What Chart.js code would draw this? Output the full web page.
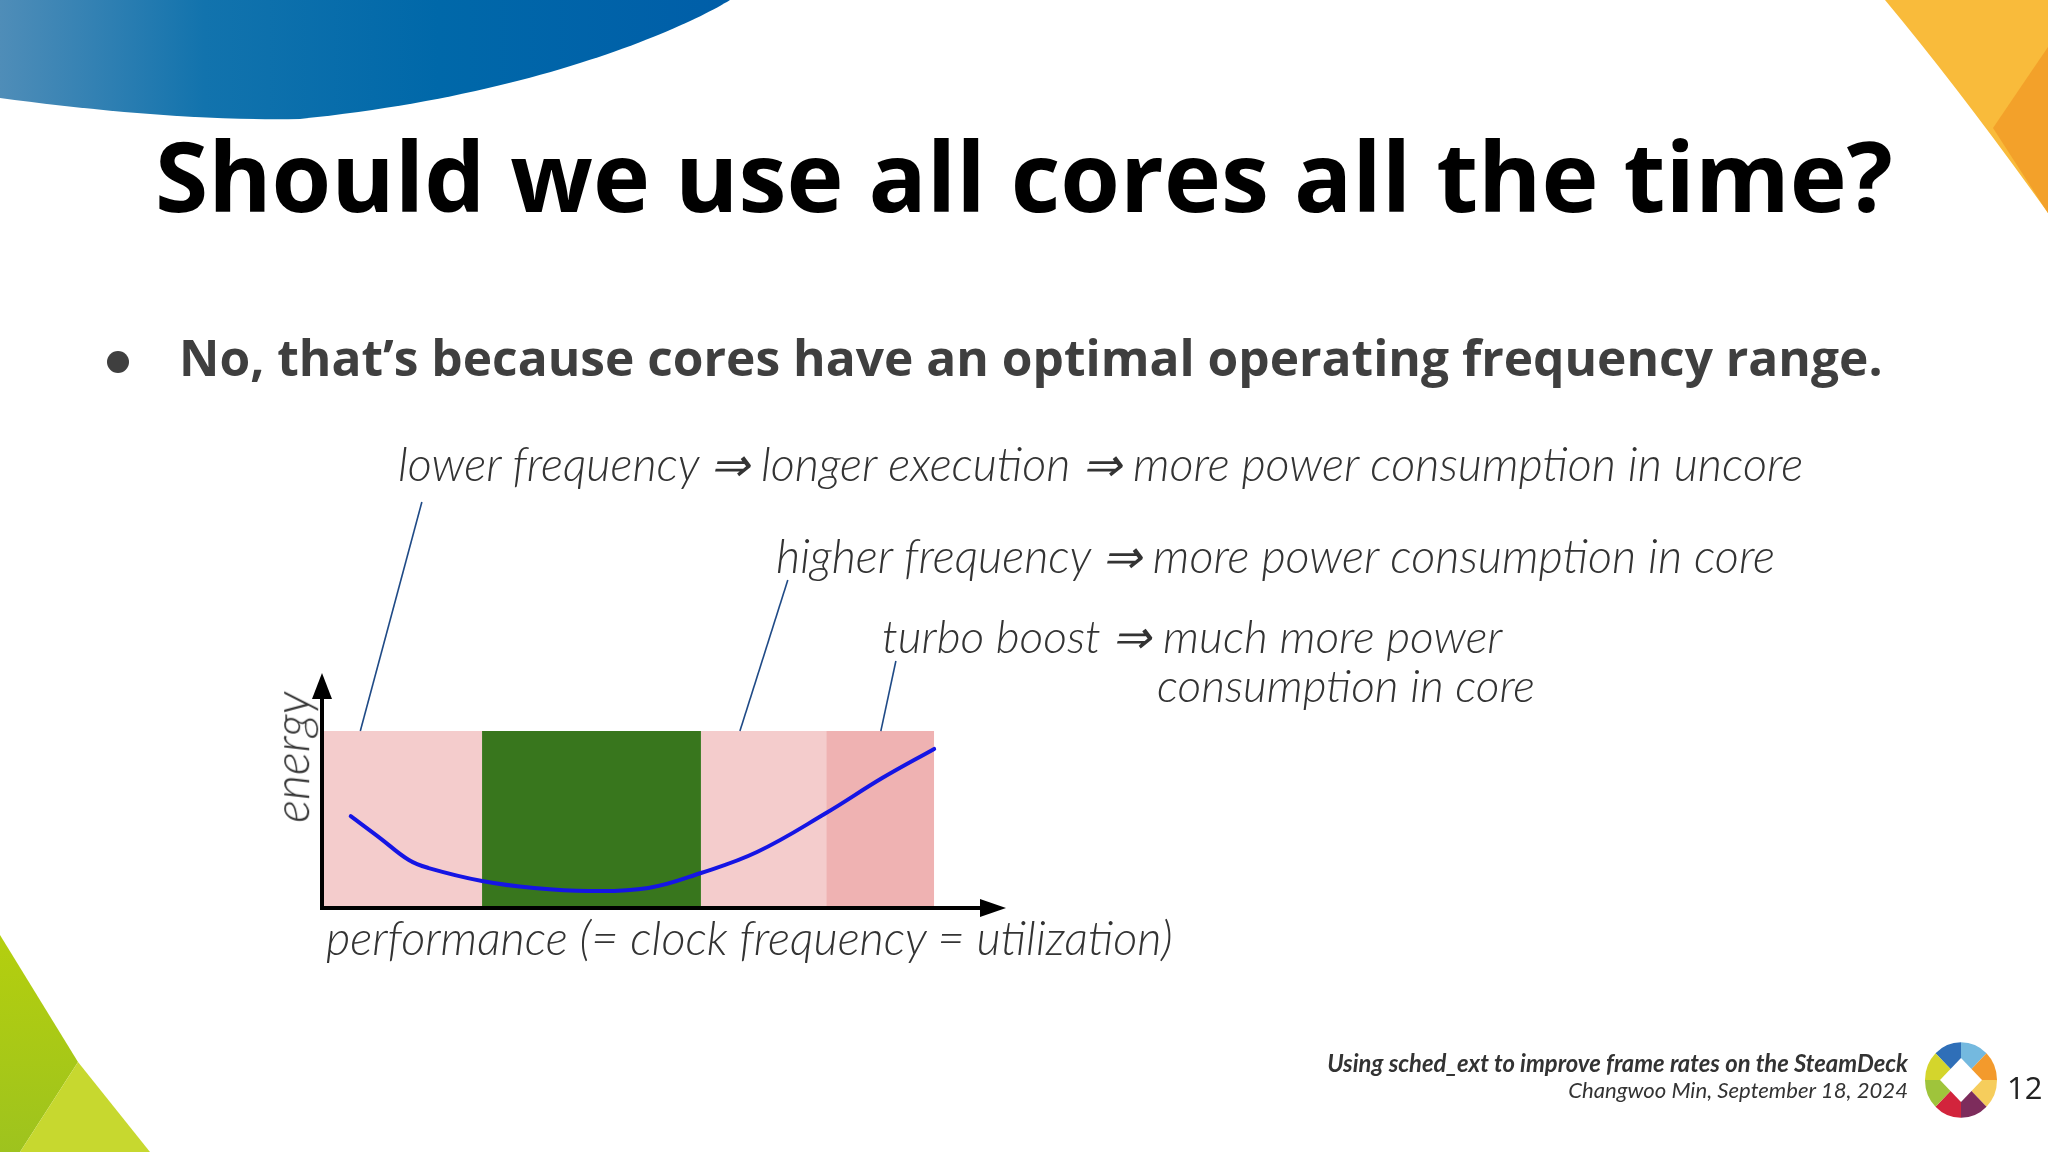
<!DOCTYPE html>
<html>
<head>
<meta charset="utf-8">
<script src="https://cdn.jsdelivr.net/npm/chart.js@4.4.1/dist/chart.umd.min.js"></script>
<style>
  html, body { margin: 0; padding: 0; background: #fff; }
  #slide { position: relative; width: 2048px; height: 1152px; overflow: hidden; background: #fff; }
  #deco, #chart { position: absolute; left: 0; top: 0; }
  .t { position: absolute; white-space: nowrap; line-height: 1; }
  .title { font-family: "Open Sans", sans-serif; font-weight: 700; color: #000; }
  .bullet { font-family: "Open Sans", sans-serif; font-weight: 700; color: #3f3f3f; }
  .note { font-family: Lato, "Open Sans", sans-serif; font-weight: 300; font-style: italic; color: #333; }
  .foot1 { font-family: Lato, sans-serif; font-weight: 700; font-style: italic; color: #333; }
  .foot2 { font-family: Lato, sans-serif; font-weight: 400; font-style: italic; color: #333; }
  .num { font-family: "Open Sans", sans-serif; font-weight: 400; color: #222; }
  #dot { position: absolute; left: 107px; top: 351px; width: 22px; height: 22px; border-radius: 50%; background: #3f3f3f; }
</style>
</head>
<body>
<div id="slide">
  <svg id="deco" width="2048" height="1152">
    <defs>
      <linearGradient id="blue" x1="0" y1="0" x2="1" y2="0">
        <stop offset="0" stop-color="#4f8db8"/>
        <stop offset="0.28" stop-color="#1273ad"/>
        <stop offset="0.6" stop-color="#0068a9"/>
        <stop offset="1" stop-color="#005ea8"/>
      </linearGradient>
      <linearGradient id="lime" x1="0" y1="0" x2="0" y2="1">
        <stop offset="0" stop-color="#b4cf0e"/>
        <stop offset="1" stop-color="#9ec31e"/>
      </linearGradient>
    </defs>
    <path d="M0 0 H730 C690 25 540 95 300 119 C200 121 90 110 0 98 Z" fill="url(#blue)"/>
    <path d="M1885 0 Q1960 90 2048 213 V0 Z" fill="#f9bb3b"/>
    <path d="M2048 47 L1993 128 Q2020 170 2048 213 Z" fill="#f3a12a"/>
    <path d="M0 935 L78 1062 L20 1152 L0 1152 Z" fill="url(#lime)"/>
    <path d="M78 1062 L150 1152 L20 1152 Z" fill="#c7d82f"/>
    <g transform="translate(1961,1080) scale(1,1.05)">
      <path d="M0 0 L0 -36 A36 36 0 0 0 -25.5 -25.5 Z" fill="#2f6fb8"/>
      <path d="M0 0 L25.5 -25.5 A36 36 0 0 0 0 -36 Z" fill="#74b9df"/>
      <path d="M0 0 L36 0 A36 36 0 0 0 25.5 -25.5 Z" fill="#f39a2c"/>
      <path d="M0 0 L25.5 25.5 A36 36 0 0 0 36 0 Z" fill="#f6cd5c"/>
      <path d="M0 0 L0 36 A36 36 0 0 0 25.5 25.5 Z" fill="#7d2c5c"/>
      <path d="M0 0 L-25.5 25.5 A36 36 0 0 0 0 36 Z" fill="#d2243c"/>
      <path d="M0 0 L-36 0 A36 36 0 0 0 -25.5 25.5 Z" fill="#9fc43b"/>
      <path d="M0 0 L-25.5 -25.5 A36 36 0 0 0 -36 0 Z" fill="#d4d52c"/>
      <path d="M0 -21 L21 0 L0 21 L-21 0 Z" fill="#fff"/>
    </g>
  </svg>
  <canvas id="chart" width="2048" height="1152"></canvas>

  <div class="t title" data-x="155" data-b="213" data-w="1738" data-fs="104">Should we use all cores all the time?</div>
  <div id="dot"></div>
  <div class="t bullet" data-x="179" data-b="377" data-w="1704" data-fs="52">No, that’s because cores have an optimal operating frequency range.</div>

  <div class="t note" data-x="398" data-b="482" data-w="1407" data-fs="40">lower frequency ⇒ longer execution ⇒ more power consumption in uncore</div>
  <div class="t note" data-x="776" data-b="574" data-w="1000" data-fs="40">higher frequency ⇒ more power consumption in core</div>
  <div class="t note" data-x="882" data-b="653" data-w="621" data-fs="40">turbo boost ⇒ much more power</div>
  <div class="t note" data-x="1157" data-b="703" data-w="378" data-fs="40">consumption in core</div>
  <div class="t note" data-x="326" data-b="956" data-w="847" data-fs="40">performance (= clock frequency = utilization)</div>
  <div class="t note" id="ylabel" data-w="131" data-fs="42">energy</div>

  <div class="t foot1" data-r="1908" data-b="1073" data-w="581" data-fs="20">Using sched_ext to improve frame rates on the SteamDeck</div>
  <div class="t foot2" data-r="1908" data-b="1099" data-w="340" data-fs="20">Changwoo Min, September 18, 2024</div>
  <div class="t num" data-x="2007" data-b="1099" data-fs="31">12</div>
</div>

<script>
// Bandes de fréquence (axe x : performance, 0..100)
const bandStart = [0, 23.4, 55.4, 73.7];
const bandEnd = [23.4, 55.4, 73.7, 89.5];
const bandTop = 75.3;
const bandColors = ['#f4cccc', '#38761d', '#f4cccc', '#efb2b2'];

// Courbe énergie / performance
const curveX = [4.2, 8.3, 12.7, 15.6, 23.4, 31.0, 38.9, 47.7, 55.4, 63.6, 73.7, 81.9, 89.5];
const curveY = [39.1, 30.2, 20.4, 17.0, 11.5, 8.5, 7.2, 8.5, 14.9, 23.8, 40.4, 55.3, 67.7];

// Traits de renvoi vers les annotations (unités des axes)
const leaderFromX = [14.6, 68.1, 83.9];
const leaderFromY = [172.8, 139.6, 105.1];
const leaderToX = [5.6, 61.1, 81.7];

// Ajuste la taille des textes pour tenir dans la largeur voulue
document.querySelectorAll('.t').forEach(function(el) {
    let fs = parseFloat(el.dataset.fs);
    el.style.fontSize = fs + 'px';
    if (el.dataset.w) {
        const w = el.getBoundingClientRect().width;
        fs = fs * parseFloat(el.dataset.w) / w;
        el.style.fontSize = fs + 'px';
    }
    if (el.id === 'ylabel') {
        const w = el.getBoundingClientRect().width;
        el.style.left = (290 - w / 2) + 'px';
        el.style.top = (757 - fs / 2) + 'px';
        el.style.transform = 'rotate(-90deg)';
        return;
    }
    el.style.top = (parseFloat(el.dataset.b) - 0.887 * fs) + 'px';
    if (el.dataset.r) {
        el.style.left = (parseFloat(el.dataset.r) - el.getBoundingClientRect().width) + 'px';
    } else {
        el.style.left = el.dataset.x + 'px';
    }
});

const datasets = [];

datasets.push({
    label: 'energy',
    data: curveX.map((x, i) => ({ x: x, y: curveY[i] })),
    borderColor: '#1515e4',
    borderWidth: 4,
    pointRadius: 0,
    tension: 0.4,
    borderCapStyle: 'round',
    fill: false
});

bandStart.forEach(function(start, i) {
    datasets.push({
        label: 'band' + i,
        data: [{ x: start, y: bandTop }, { x: bandEnd[i], y: bandTop }],
        backgroundColor: bandColors[i],
        borderWidth: 0,
        pointRadius: 0,
        fill: 'origin'
    });
});

// Axes avec flèches + traits de renvoi
const axesPlugin = {
    id: 'axesArrows',
    afterDatasetsDraw(chart) {
        const ctx = chart.ctx;
        const a = chart.chartArea;
        const xs = chart.scales.x, ys = chart.scales.y;
        ctx.save();
        ctx.strokeStyle = '#000';
        ctx.fillStyle = '#000';
        ctx.lineWidth = 4;
        ctx.beginPath();
        ctx.moveTo(a.left, a.top + 20);
        ctx.lineTo(a.left, a.bottom);
        ctx.lineTo(a.right - 20, a.bottom);
        ctx.stroke();
        ctx.beginPath();
        ctx.moveTo(a.left, a.top);
        ctx.lineTo(a.left - 10, a.top + 26);
        ctx.lineTo(a.left + 10, a.top + 26);
        ctx.closePath();
        ctx.fill();
        ctx.beginPath();
        ctx.moveTo(a.right, a.bottom);
        ctx.lineTo(a.right - 26, a.bottom - 9);
        ctx.lineTo(a.right - 26, a.bottom + 9);
        ctx.closePath();
        ctx.fill();

        ctx.strokeStyle = '#1f4a86';
        ctx.lineWidth = 1.6;
        leaderFromX.forEach(function(fx, i) {
            ctx.beginPath();
            ctx.moveTo(xs.getPixelForValue(fx), ys.getPixelForValue(leaderFromY[i]));
            ctx.lineTo(xs.getPixelForValue(leaderToX[i]), ys.getPixelForValue(bandTop));
            ctx.stroke();
        });
        ctx.restore();
    }
};

new Chart(document.getElementById('chart').getContext('2d'), {
    type: 'line',
    data: { datasets: datasets },
    options: {
        responsive: false,
        animation: false,
        layout: { padding: { left: 322, right: 1042, top: 673, bottom: 244 } },
        scales: {
            x: { type: 'linear', min: 0, max: 100, display: false },
            y: { type: 'linear', min: 0, max: 100, display: false }
        },
        plugins: {
            legend: { display: false },
            tooltip: { enabled: false }
        }
    },
    plugins: [axesPlugin]
});
</script>
</body>
</html>
